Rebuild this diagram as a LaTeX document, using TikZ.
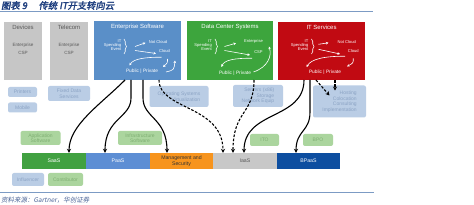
\documentclass[tikz,border=0pt]{standalone}
\usepackage{fontspec}
\setmainfont{Liberation Sans}
\newfontfamily\cjkt[FakeSlant=0.18,FakeBold=2.5]{Noto Sans CJK SC}
\newfontfamily\cjks[FakeSlant=0.18]{Noto Sans CJK SC}
\usetikzlibrary{arrows.meta,decorations.pathreplacing}
\definecolor{titleblue}{HTML}{1F3F7F}
\definecolor{rulecol}{HTML}{7C9BC4}
\definecolor{grayfill}{HTML}{C6C6C6}
\definecolor{graytext}{HTML}{5A5A5A}
\definecolor{esblue}{HTML}{5A8FC8}
\definecolor{dcgreen}{HTML}{3DA53D}
\definecolor{itred}{HTML}{C10A12}
\definecolor{lblue}{HTML}{BACDE5}
\definecolor{lbluetext}{HTML}{8BA3C4}
\definecolor{lgreen}{HTML}{ABD59E}
\definecolor{lgreentext}{HTML}{7EAE72}
\definecolor{saasc}{HTML}{41A141}
\definecolor{paasc}{HTML}{5D8ED4}
\definecolor{mgmtc}{HTML}{F7941D}
\definecolor{iaasc}{HTML}{C8C8C8}
\definecolor{bpaasc}{HTML}{0D4EA0}
\begin{document}
\begin{tikzpicture}[x=1pt,y=-1pt,
  bigbox/.style={inner sep=0,outer sep=0},
  ttl/.style={text=white,inner sep=0,font=\fontsize{6}{7}\selectfont},
  gttl/.style={text=graytext,inner sep=0,font=\fontsize{6}{7}\selectfont},
  gsm/.style={text=graytext,inner sep=0,font=\fontsize{4.6}{5.5}\selectfont},
  wsm/.style={text=white,inner sep=0,font=\fontsize{4.1}{4.3}\selectfont},
  pp/.style={text=white,inner sep=0,font=\fontsize{4.8}{5.5}\selectfont},
  sbox/.style={fill=lblue,rounded corners=2pt,inner sep=0,text=lbluetext,font=\fontsize{5}{5.5}\selectfont},
  gbox/.style={fill=lgreen,rounded corners=2pt,inner sep=0,text=lgreentext,font=\fontsize{5}{5.5}\selectfont},
  barbox/.style={inner sep=0,minimum height=16,font=\fontsize{5.2}{6.4}\selectfont,align=center},
  conn/.style={line width=1.1pt,-{Stealth[length=4pt,width=4.2pt]}},
  dconn/.style={conn,dash pattern=on 2.6pt off 1.6pt},
  iarr/.style={white,line width=0.6pt,-{Stealth[length=2.6pt,width=2.6pt]}},
  wbrace/.style={white,line width=0.6pt,decorate,decoration={brace,amplitude=2.5pt}}
]
\useasboundingbox (0,0) rectangle (474,205);
\fill[white] (0,0) rectangle (474,205);

% title and rules
\node[anchor=west,inner sep=0,text=titleblue,font=\fontsize{9.3}{10}\cjkt] (title) at (1,5.5) {图表 9\hspace{1.25em}传统 IT开支转向云};
\draw[rulecol,line width=0.8pt] (0,11.5) -- (373,11.5);
\draw[rulecol,line width=0.8pt] (0,192.5) -- (374,192.5);
\node[anchor=west,inner sep=0,text=titleblue!80,font=\fontsize{6.5}{7}\cjks] (src) at (1,200) {资料来源：Gartner，华创证券};

% gray boxes
\node[bigbox,fill=grayfill,minimum width=38,minimum height=58] (dev) at (23,51) {};
\node[gttl] (devt) at (23,27) {Devices};
\node[gsm] (deve) at (23,45) {Enterprise};
\node[gsm] (devc) at (23,53) {CSP};
\node[bigbox,fill=grayfill,minimum width=38,minimum height=58] (tel) at (69,51) {};
\node[gttl] (telt) at (69,27) {Telecom};
\node[gsm] (tele) at (69,45) {Enterprise};
\node[gsm] (telc) at (69,53) {CSP};

% Enterprise Software
\node[bigbox,fill=esblue,minimum width=87,minimum height=59] (es) at (137.5,50.5) {};
\node[ttl] (est) at (137.5,27) {Enterprise Software};
\node[wsm,anchor=east,align=right] (esi) at (121.5,45.3) {IT\\Spending\\Event};
\draw[wbrace] (124,39) -- (124,54);
\node[wsm] (esn) at (158,42) {Not Cloud};
\node[wsm] (esc) at (164.5,51) {Cloud};
\node[pp] (esp) at (142,71.5) {Public | Private};
\draw[iarr] (135,46.5) -- (145.5,42.8);
\draw[iarr] (135,50.5) -- (156,53.5);
\draw[iarr] (161.5,57.3) .. controls (145,57) and (133,59) .. (129.5,65.5);
\draw[iarr] (167.5,59) .. controls (167.5,63) .. (163,67);
\draw[iarr] (166,72) .. controls (174,70) .. (175,60.5);

% Data Center Systems
\node[bigbox,fill=dcgreen,minimum width=86,minimum height=59] (dc) at (230,50.5) {};
\node[ttl] (dct) at (230,27) {Data Center Systems};
\node[wsm,anchor=east,align=right] (dci) at (212,45.3) {IT\\Spending\\Event};
\draw[wbrace] (215,39) -- (215,54);
\node[wsm] (dce) at (253.5,41.7) {Enterprise};
\node[wsm] (dcc) at (258.5,51.7) {CSP};
\node[pp] (dcp) at (235,73) {Public | Private};
\draw[iarr] (224.5,46.5) -- (236,43.2);
\draw[iarr] (224.5,50.5) -- (250,55);
\draw[iarr] (252,58.3) .. controls (235,58) and (224,60) .. (221.5,67);
\draw[iarr] (253.5,72) .. controls (268,67) and (272,56) .. (269,46.5);

% IT Services
\node[bigbox,fill=itred,minimum width=87,minimum height=58] (it) at (321.5,51) {};
\node[ttl] (itt) at (321.5,27) {IT Services};
\node[wsm,anchor=east,align=right] (iti) at (308.5,45.3) {IT\\Spending\\Event};
\draw[wbrace] (311.5,39) -- (311.5,54);
\node[wsm] (itn) at (346.7,41.7) {Not Cloud};
\node[wsm] (itc) at (353.3,51.5) {Cloud};
\node[pp] (itp) at (325,72.5) {Public | Private};
\draw[iarr] (318.5,44.3) -- (328.5,42.8);
\draw[iarr] (318.5,49.3) -- (340,54);
\draw[iarr] (345,56.3) .. controls (325,56) and (311,59) .. (306.7,67);
\draw[iarr] (353.3,58.3) .. controls (353.3,63) .. (347,66.5);

% light blue small boxes
\node[sbox,minimum width=29,minimum height=10] (prn) at (22.5,92) {Printers};
\node[sbox,minimum width=29,minimum height=10] (mob) at (22.5,107.5) {Mobile};
\node[sbox,minimum width=42,minimum height=15,align=center] (fds) at (69,93.5) {Fixed Data\\Services};
\node[sbox,minimum width=59,minimum height=21,align=right] (osv) at (179,96.5) {Operating Systems\\Virtualization};
\node[sbox,minimum width=50,minimum height=22,align=right] (srv) at (258,96) {Servers (x86)\\Storage\\Network Equip};
\node[sbox,minimum width=53,minimum height=32,align=right] (hst) at (339.5,101.5) {Hosting\\Colocation\\Consulting\\Implementation};

% light green small boxes
\node[gbox,minimum width=40,minimum height=14,align=center] (app) at (40.5,138) {Application\\Software};
\node[gbox,minimum width=44,minimum height=14,align=center] (inf) at (140,138) {Infrastructure\\Software};
\node[gbox,minimum width=29,minimum height=12] (ito) at (264.5,140) {ITO};
\node[gbox,minimum width=30,minimum height=12] (bpo) at (318,140) {BPO};

% bar
\node[barbox,fill=saasc,minimum width=64,text=white] (saas) at (54,161) {SaaS};
\node[barbox,fill=paasc,minimum width=64,text=white] (paas) at (118,161) {PaaS};
\node[barbox,fill=mgmtc,minimum width=63,text=black!80] (mgmt) at (181.5,161) {Management and\\Security};
\node[barbox,fill=iaasc,minimum width=64,text=graytext] (iaas) at (245,161) {IaaS};
\node[barbox,fill=bpaasc,minimum width=63,text=white] (bpaas) at (308.5,161) {BPaaS};

% bottom small boxes
\node[sbox,minimum width=32,minimum height=13] (infl) at (28,179.5) {Influencer};
\node[gbox,minimum width=35,minimum height=13] (contr) at (65.5,179.5) {Contributor};

% connectors
\draw[conn] ([xshift=-12.5pt]es.south) .. controls (100,105) and (69,125) .. ([xshift=15pt]saas.north);
\draw[conn] ([xshift=-6.5pt]es.south) -- (131,98) .. controls (131,118) and (105,118) .. ([xshift=-13pt]paas.north);
\draw[conn] ([xshift=5.5pt]es.south) -- (143,98) .. controls (143,118) and (167,118) .. ([xshift=-14.5pt]mgmt.north);
\draw[dconn] ([xshift=21.5pt]es.south) .. controls (159,110) and (223,105) .. ([xshift=-22pt]iaas.north);
\draw[dconn] ([xshift=24pt]dc.south) .. controls (254,115) and (233,110) .. ([xshift=-12pt]iaas.north);
\draw[conn] ([xshift=-17.5pt]it.south) .. controls (304,120) and (244,110) .. ([xshift=-1pt]iaas.north);
\draw[conn] ([xshift=-11.5pt]it.south) -- (310,112) .. controls (310,132) and (296,130) .. ([xshift=-12.5pt]bpaas.north);
\coordinate (hA) at (329.5,95.5);
\coordinate (hB) at (335,90.5);
\draw[dconn] ([xshift=-5.5pt]it.south) -- (hA);
\draw[dconn] ([xshift=13.5pt]it.south) -- (hB);
\end{tikzpicture}
\end{document}
